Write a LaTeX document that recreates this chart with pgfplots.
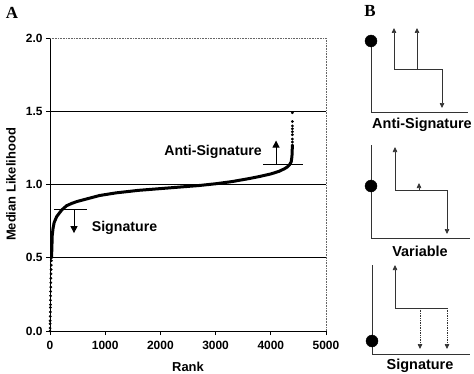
\documentclass[border=0pt]{standalone}
\usepackage{fontspec}
\setmainfont{Liberation Sans}
\newfontfamily\seriffont{Liberation Serif}
\usepackage{pgfplots}
\pgfplotsset{compat=1.18}
\usetikzlibrary{arrows.meta}
\tikzset{bl/.style={black!80, line width=0.7bp, mark=none, solid},
         ah/.style={-{Triangle[width=4.5bp,length=5bp]}}}
\begin{document}
\begin{tikzpicture}
\path[use as bounding box] (0,0) rectangle (474bp,374bp);
\begin{axis}[
  at={(50bp,43bp)}, anchor=south west, scale only axis,
  width=276bp, height=293bp,
  xmin=0, xmax=5000, ymin=0, ymax=2,
  axis x line*=bottom, axis y line*=left,
  axis line style={-, line width=0.8bp, black},
  xtick={0,1000,2000,3000,4000,5000}, ytick={0,0.5,1,1.5,2},
  tick align=outside, major tick length=4bp,
  tick style={black, line width=0.8bp},
  /pgf/number format/assume math mode=true,
  ticklabel style={font=\fontsize{12}{12}\selectfont\bfseries},
  xticklabel style={yshift=-3bp, /pgf/number format/1000 sep={}},
  yticklabel style={/pgf/number format/.cd, fixed, fixed zerofill, precision=1},
  scaled x ticks=false,
  xlabel={Rank}, ylabel={Median Likelihood},
  label style={font=\fontsize{13}{13}\selectfont\bfseries},
  xlabel style={at={(axis description cs:0.5,-0.123)}, anchor=center},
  ylabel style={at={(axis description cs:-0.141,0.5)}, anchor=center},
  clip=false,
]
% borders and grid
\addplot[black!60, densely dotted, line width=0.6bp] coordinates {(0,2)(5000,2)(5000,0)};
\addplot[black, line width=0.7bp] coordinates {(0,0.5)(5000,0.5)};
\addplot[black, line width=0.7bp] coordinates {(0,1)(5000,1)};
\addplot[black, line width=0.7bp] coordinates {(0,1.5)(5000,1.5)};
% main ranked curve
\addplot[black, line width=3bp, line join=round, line cap=round] coordinates {
(28,0.50)(35,0.58)(40,0.65)(55,0.70)(75,0.74)(120,0.78)(160,0.80)(210,0.825)
(300,0.855)(400,0.872)(500,0.885)(700,0.905)(900,0.925)(1200,0.943)(1600,0.960)
(1800,0.966)(2000,0.972)(2400,0.984)(2700,0.993)(3000,1.005)(3300,1.02)(3600,1.04)
(3800,1.055)(4000,1.072)(4150,1.09)(4250,1.108)(4300,1.12)(4340,1.135)(4370,1.155)
(4383,1.19)(4388,1.23)(4390,1.27)};
% sparse tails
\addplot[only marks, mark=*, mark size=1.2bp, black] coordinates {
(0,0.0)(1,0.02)(2,0.05)(3,0.07)(4,0.10)(6,0.13)(7,0.16)(8,0.18)(9,0.21)(11,0.24)
(12,0.27)(14,0.30)(15,0.33)(17,0.36)(19,0.39)(21,0.42)(23,0.45)(25,0.48)};
\addplot[only marks, mark=*, mark size=1.2bp, black] coordinates {
(4391,1.29)(4391,1.31)(4391,1.34)(4391,1.36)(4391,1.38)(4391,1.40)(4391,1.43)(4391,1.49)};
% annotations
\addplot[black, line width=0.6bp] coordinates {(3865,1.137)(4590,1.137)};
\addplot[black, line width=0.9bp, -{Triangle[width=7bp,length=7bp]}] coordinates {(4095,1.137)(4095,1.30)};
\addplot[black, line width=0.6bp] coordinates {(72,0.832)(670,0.832)};
\addplot[black, line width=0.9bp, -{Triangle[width=7bp,length=7bp]}] coordinates {(435,0.832)(435,0.668)};
\node[anchor=base east, inner sep=0pt, font=\fontsize{14.2}{14.2}\selectfont\bfseries] at (axis cs:3840,1.195) {Anti-Signature};
\node[anchor=base west, inner sep=0pt, font=\fontsize{14.2}{14.2}\selectfont\bfseries] at (axis cs:755,0.677) {Signature};
\end{axis}
% panel B and panel letters, in pixel coordinates
\begin{axis}[
  at={(0,0)}, anchor=south west, scale only axis,
  width=474bp, height=374bp,
  xmin=0, xmax=474, ymin=0, ymax=374, y dir=reverse,
  hide axis, clip=false,
  cycle list={{black!80, line width=0.7bp, mark=none}},
]
% Anti-Signature
\addplot[bl] coordinates {(371,36)(371,112)(468,112)};
\addplot[bl, ah] coordinates {(394,69)(394,28)};
\addplot[bl, ah] coordinates {(417,69)(417,28)};
\addplot[bl] coordinates {(394,69)(442,69)};
\addplot[bl, ah] coordinates {(442,69)(442,108)};
\addplot[only marks, mark=*, mark size=6bp, black] coordinates {(371,41)};
% Variable
\addplot[bl] coordinates {(371,145)(371,238)(470,238)};
\addplot[bl, ah] coordinates {(395,190)(395,147)};
\addplot[bl] coordinates {(395,190)(447,190)};
\addplot[bl, ah] coordinates {(419,190)(419,183)};
\addplot[bl, ah] coordinates {(447,190)(447,234)};
\addplot[only marks, mark=*, mark size=6bp, black] coordinates {(371,186)};
% Signature
\addplot[bl] coordinates {(372,265)(372,354)(470,354)};
\addplot[bl, ah] coordinates {(395,308)(395,265)};
\addplot[bl] coordinates {(395,308)(447,308)};
\addplot[bl, densely dotted, ah] coordinates {(420,308)(420,349)};
\addplot[bl, densely dotted, ah] coordinates {(447,308)(447,349)};
\addplot[only marks, mark=*, mark size=6bp, black] coordinates {(372,341)};
% labels
\node[font=\fontsize{14.5}{14.5}\selectfont\bfseries] at (axis cs:422,125) {Anti-Signature};
\node[font=\fontsize{14.5}{14.5}\selectfont\bfseries] at (axis cs:420,251) {Variable};
\node[font=\fontsize{14.5}{14.5}\selectfont\bfseries] at (axis cs:420,366) {Signature};
\node[font=\fontsize{17}{17}\seriffont\bfseries] at (axis cs:12,12.5) {A};
\node[font=\fontsize{17}{17}\seriffont\bfseries] at (axis cs:370,11) {B};
\end{axis}
\end{tikzpicture}
\end{document}
